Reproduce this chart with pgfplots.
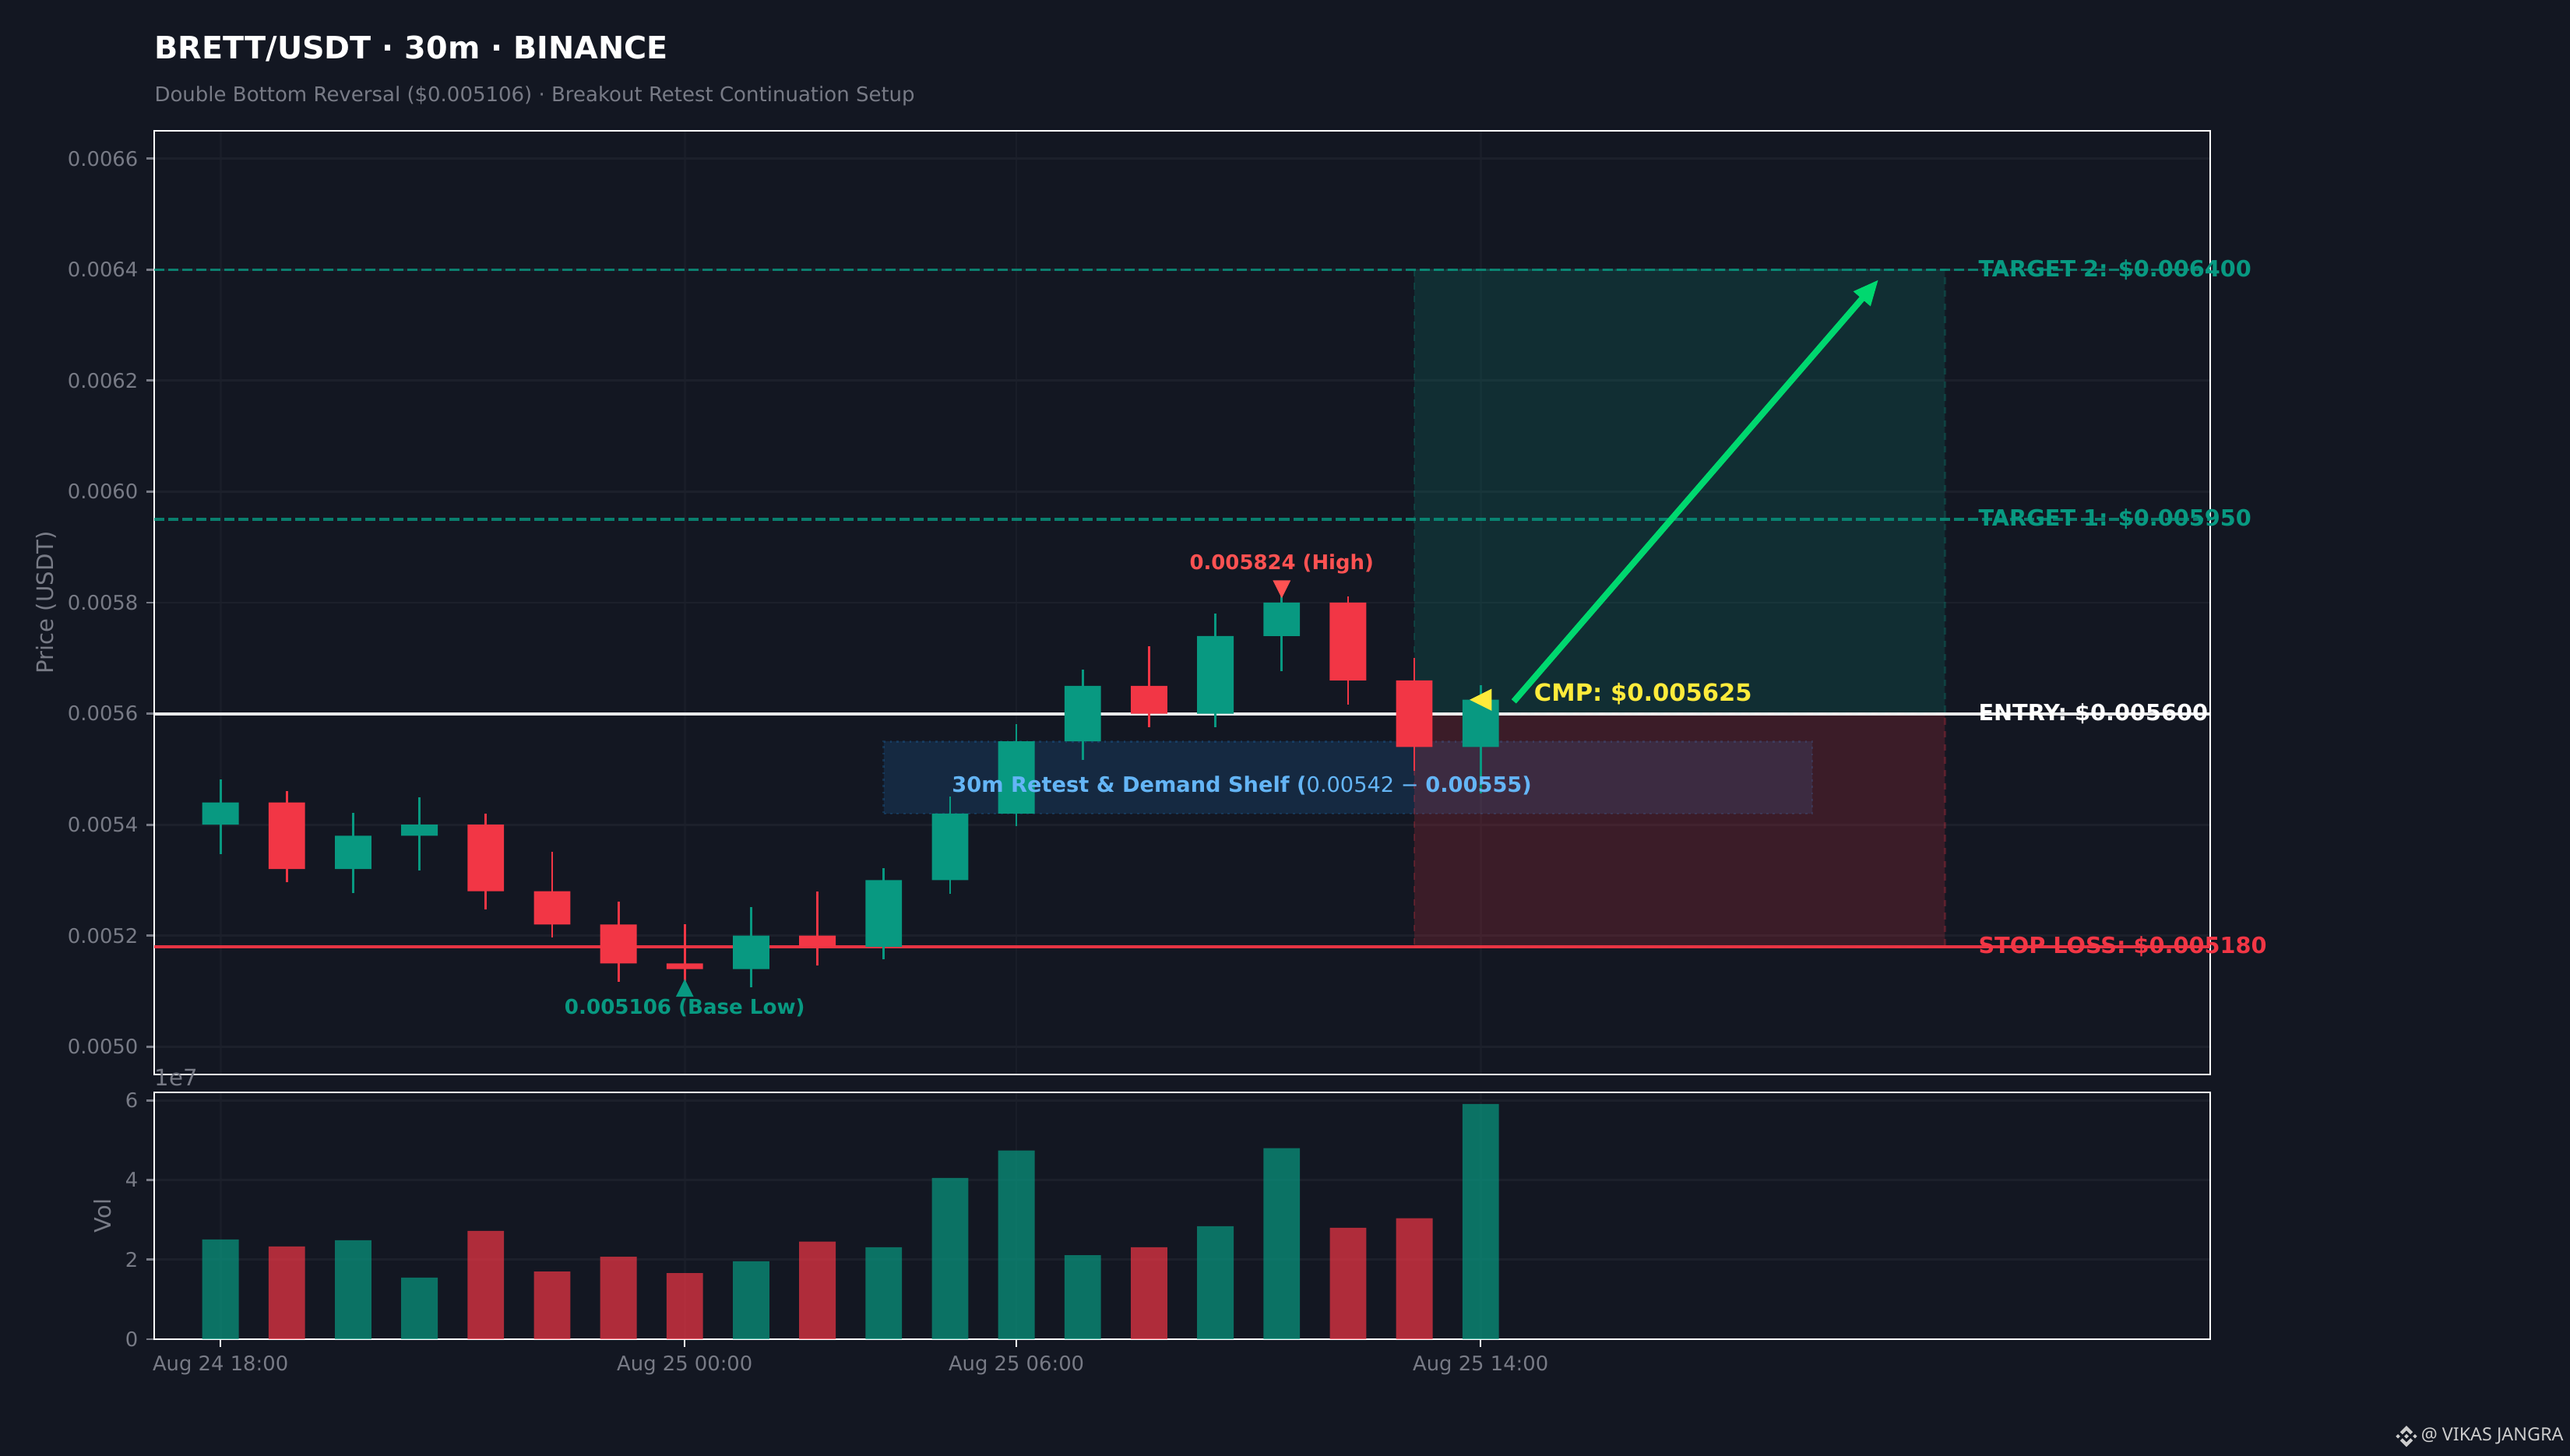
\documentclass[border=0pt]{standalone}
\usepackage{pgfplots}
\pgfplotsset{compat=1.18}
\usepackage{fontspec}
\setmainfont{DejaVu Sans}
\newfontfamily\wmfont{Noto Sans}
\usetikzlibrary{arrows.meta}
\definecolor{bg}{HTML}{131722}
\definecolor{up}{HTML}{089981}
\definecolor{down}{HTML}{F23645}
\definecolor{txt}{HTML}{787B86}
\definecolor{gridx}{HTML}{191D28}
\definecolor{gridy}{HTML}{1C202B}
\definecolor{zone}{HTML}{2196F3}
\definecolor{zonet}{HTML}{64B5F6}
\definecolor{hi}{HTML}{FF5252}
\definecolor{cmp}{HTML}{FFEB3B}
\definecolor{arr}{HTML}{00D86F}
\pgfdeclareplotmark{tridown}{%
  \pgfpathmoveto{\pgfqpoint{-\pgfplotmarksize}{\pgfplotmarksize}}%
  \pgfpathlineto{\pgfqpoint{\pgfplotmarksize}{\pgfplotmarksize}}%
  \pgfpathlineto{\pgfqpoint{0pt}{-\pgfplotmarksize}}%
  \pgfpathclose\pgfusepathqfill}
\pgfdeclareplotmark{triup}{%
  \pgfpathmoveto{\pgfqpoint{-\pgfplotmarksize}{-\pgfplotmarksize}}%
  \pgfpathlineto{\pgfqpoint{\pgfplotmarksize}{-\pgfplotmarksize}}%
  \pgfpathlineto{\pgfqpoint{0pt}{\pgfplotmarksize}}%
  \pgfpathclose\pgfusepathqfill}
\pgfdeclareplotmark{trileft}{%
  \pgfpathmoveto{\pgfqpoint{\pgfplotmarksize}{-\pgfplotmarksize}}%
  \pgfpathlineto{\pgfqpoint{\pgfplotmarksize}{\pgfplotmarksize}}%
  \pgfpathlineto{\pgfqpoint{-\pgfplotmarksize}{0pt}}%
  \pgfpathclose\pgfusepathqfill}
\pgfplotsset{
  common/.style={
    scale only axis, width=950.4pt,
    xmin=-1, xmax=30,
    xtick={0,7,12,19},
    grid=major,
    x grid style={gridx, line width=1pt},
    y grid style={gridy, line width=1pt},
    axis line style={white, line width=1.05pt},
    tick align=outside,
    major tick length=3.6pt,
    tick label style={txt, font=\fontsize{9.3}{11}\selectfont},
    yticklabel style={xshift=-0.3pt},
    ytick style={txt, line width=1pt},
    xtick style={white, line width=0.7pt},
    xtick pos=lower, ytick pos=left,
    /pgf/number format/assume math mode=true,
    unbounded coords=jump,
    clip=false,
  }
}
\begin{document}
\begin{tikzpicture}
\path[use as bounding box, fill=bg] (0pt,0pt) rectangle (1188pt,673.2pt);
\begin{axis}[common,
  name=main,
  at={(71.28pt,176.4pt)}, anchor=south west, height=436.32pt,
  ymin=0.00495, ymax=0.00665,
  ytick={0.0050,0.0052,0.0054,0.0056,0.0058,0.0060,0.0062,0.0064,0.0066},
  scaled y ticks=false,
  yticklabel style={/pgf/number format/fixed,/pgf/number format/fixed zerofill,/pgf/number format/precision=4},
  xticklabels={}, xtick style={draw=none},
  ylabel={Price (USDT)},
  ylabel style={at={(axis description cs:-0.0527,0.5)},anchor=center,txt,font=\fontsize{10.5}{12}\selectfont},
  title={BRETT/USDT · 30m · BINANCE},
  title style={at={(axis description cs:0,1.0891)},anchor=west,inner sep=0pt,yshift=-7pt,white,font=\fontsize{14.3}{16}\selectfont\bfseries},
]
% demand zone
\addplot[fill=zone, fill opacity=0.15, draw=zone, draw opacity=0.2, line width=1pt, dotted] coordinates {(10,0.00542)(24,0.00542)(24,0.00555)(10,0.00555)(10,0.00542)};
% reward and risk boxes
\addplot[fill=up, fill opacity=0.18, draw=up, draw opacity=0.25, line width=1pt, dashed] coordinates {(18,0.0056)(26,0.0056)(26,0.0064)(18,0.0064)(18,0.0056)};
\addplot[fill=down, fill opacity=0.18, draw=down, draw opacity=0.25, line width=1pt, dashed] coordinates {(18,0.00518)(26,0.00518)(26,0.0056)(18,0.0056)(18,0.00518)};
% levels
\addplot[up, opacity=0.8, line width=1.2pt, dash pattern=on 4.7pt off 1.8pt] coordinates {(-1,0.0064)(30,0.0064)};
\addplot[up, opacity=0.8, line width=1.2pt, dash pattern=on 4.7pt off 1.8pt] coordinates {(-1,0.00595)(30,0.00595)};
\addplot[white, opacity=0.9, line width=1.4pt] coordinates {(-1,0.0056)(30,0.0056)};
\addplot[down, opacity=0.95, line width=1.2pt] coordinates {(-1,0.00518)(30,0.00518)};
% wicks
\addplot[up, line width=1pt] coordinates {
(0,0.005347)(0,0.005481)(0,nan)
(2,0.005277)(2,0.005421)(2,nan)
(3,0.005317)(3,0.00545)(3,nan)
(8,0.005107)(8,0.005251)(8,nan)
(10,0.005157)(10,0.005321)(10,nan)
(11,0.005276)(11,0.005451)(11,nan)
(12,0.005397)(12,0.005581)(12,nan)
(13,0.005516)(13,0.00568)(13,nan)
(15,0.005576)(15,0.005781)(15,nan)
(16,0.005676)(16,0.005824)(16,nan)
(19,0.005457)(19,0.005651)
};
\addplot[down, line width=1pt] coordinates {
(1,0.005296)(1,0.00546)(1,nan)
(4,0.005247)(4,0.00542)(4,nan)
(5,0.005197)(5,0.005351)(5,nan)
(6,0.005117)(6,0.005261)(6,nan)
(7,0.005106)(7,0.00522)(7,nan)
(9,0.005146)(9,0.00528)(9,nan)
(14,0.005576)(14,0.005721)(14,nan)
(17,0.005616)(17,0.005811)(17,nan)
(18,0.005497)(18,0.005701)
};
% bodies
\addplot[fill=up, draw=none] coordinates {
(-0.275,0.0054)(0.275,0.0054)(0.275,0.00544)(-0.275,0.00544)(0,nan)
(1.725,0.00532)(2.275,0.00532)(2.275,0.00538)(1.725,0.00538)(2,nan)
(2.725,0.00538)(3.275,0.00538)(3.275,0.0054)(2.725,0.0054)(3,nan)
(7.725,0.00514)(8.275,0.00514)(8.275,0.0052)(7.725,0.0052)(8,nan)
(9.725,0.00518)(10.275,0.00518)(10.275,0.0053)(9.725,0.0053)(10,nan)
(10.725,0.0053)(11.275,0.0053)(11.275,0.00542)(10.725,0.00542)(11,nan)
(11.725,0.00542)(12.275,0.00542)(12.275,0.00555)(11.725,0.00555)(12,nan)
(12.725,0.00555)(13.275,0.00555)(13.275,0.00565)(12.725,0.00565)(13,nan)
(14.725,0.0056)(15.275,0.0056)(15.275,0.00574)(14.725,0.00574)(15,nan)
(15.725,0.00574)(16.275,0.00574)(16.275,0.0058)(15.725,0.0058)(16,nan)
(18.725,0.00554)(19.275,0.00554)(19.275,0.005625)(18.725,0.005625)
};
\addplot[fill=down, draw=none] coordinates {
(0.725,0.00532)(1.275,0.00532)(1.275,0.00544)(0.725,0.00544)(1,nan)
(3.725,0.00528)(4.275,0.00528)(4.275,0.0054)(3.725,0.0054)(4,nan)
(4.725,0.00522)(5.275,0.00522)(5.275,0.00528)(4.725,0.00528)(5,nan)
(5.725,0.00515)(6.275,0.00515)(6.275,0.00522)(5.725,0.00522)(6,nan)
(6.725,0.00514)(7.275,0.00514)(7.275,0.00515)(6.725,0.00515)(7,nan)
(8.725,0.00518)(9.275,0.00518)(9.275,0.0052)(8.725,0.0052)(9,nan)
(13.725,0.0056)(14.275,0.0056)(14.275,0.00565)(13.725,0.00565)(14,nan)
(16.725,0.00566)(17.275,0.00566)(17.275,0.0058)(16.725,0.0058)(17,nan)
(17.725,0.00554)(18.275,0.00554)(18.275,0.00566)(17.725,0.00566)
};
% markers
\addplot[only marks, mark=tridown, mark size=4.1pt, color=hi] coordinates {(16,0.005824)};
\addplot[only marks, mark=triup, mark size=4.1pt, color=up] coordinates {(7,0.005106)};
\addplot[only marks, mark=trileft, mark size=5.1pt, color=cmp] coordinates {(19,0.005625)};
% arrow
\addplot[arr, line width=2.9pt, -{Stealth[length=11.8pt,width=9.6pt,inset=0pt]}] coordinates {(19.5,0.005622)(25,0.006382)};
% text
\node[anchor=west,inner sep=0pt,text=txt,font=\fontsize{9.36}{11}\selectfont] at (axis description cs:0,1.0365) {Double Bottom Reversal (\$0.005106) · Breakout Retest Continuation Setup};
\node[text=hi,font=\fontsize{9.33}{11}\selectfont\bfseries] at (axis cs:16,0.00587) {0.005824 (High)};
\node[text=up,font=\fontsize{9.4}{11}\selectfont\bfseries] at (axis cs:7,0.00507) {0.005106 (Base Low)};
\node[text=zonet,font=\fontsize{9.8}{11}\selectfont] at (axis cs:15.4,0.00547) {\textbf{30m Retest \& Demand Shelf (}0.00542 − \textbf{0.00555)}};
\node[anchor=west,inner sep=0pt,text=cmp,font=\fontsize{11}{13}\selectfont\bfseries] at (axis cs:19.8,0.005636) {CMP: \$0.005625};
\node[anchor=west,inner sep=0pt,text=up,font=\fontsize{10.35}{12}\selectfont\bfseries] at (axis cs:26.5,0.0064) {TARGET 2: \$0.006400};
\node[anchor=west,inner sep=0pt,text=up,font=\fontsize{10.35}{12}\selectfont\bfseries] at (axis cs:26.5,0.00595) {TARGET 1: \$0.005950};
\node[anchor=west,inner sep=0pt,text=white,font=\fontsize{10.35}{12}\selectfont\bfseries] at (axis cs:26.5,0.0056) {ENTRY: \$0.005600};
\node[anchor=west,inner sep=0pt,text=down,font=\fontsize{10.35}{12}\selectfont\bfseries] at (axis cs:26.5,0.00518) {STOP LOSS: \$0.005180};
\end{axis}
\begin{axis}[common,
  at={(71.28pt,54pt)}, anchor=south west, height=114.12pt,
  ymin=0, ymax=6.2,
  ytick={0,2,4,6},
  xticklabels={Aug 24 18:00,Aug 25 00:00,Aug 25 06:00,Aug 25 14:00},
  xticklabel style={yshift=-0.7pt},
  ylabel={Vol},
  ylabel style={at={(axis description cs:-0.025,0.5)},anchor=center,txt,font=\fontsize{10.4}{12}\selectfont},
]
\addplot[ybar, bar width=0.55, bar shift=0pt, fill=up, fill opacity=0.7, draw=none] coordinates {
(0,2.505)(2,2.485)(3,1.546)(8,1.96)(10,2.31)(11,4.05)(12,4.74)(13,2.11)(15,2.84)(16,4.80)(19,5.91)};
\addplot[ybar, bar width=0.55, bar shift=0pt, fill=down, fill opacity=0.7, draw=none] coordinates {
(1,2.33)(4,2.72)(5,1.70)(6,2.07)(7,1.66)(9,2.45)(14,2.31)(17,2.80)(18,3.04)};
\node[anchor=west,inner sep=0pt,text=txt,font=\fontsize{10.5}{12}\selectfont] at (axis description cs:0,1.06) {1e7};
\end{axis}
% watermark
\node[anchor=east,inner sep=0pt,text=black!20,font=\wmfont\fontsize{8.4}{10}\selectfont] at (1185.1pt,9.1pt) {@ VIKAS JANGRA};
\begin{scope}[shift={(1112.4pt,9.1pt)},x=4.9pt,y=4.9pt,black!20]
\fill (0,1)--(.6,.4)--(.38,.18)--(0,.56)--(-.38,.18)--(-.6,.4)--cycle;
\fill (0,-1)--(.6,-.4)--(.38,-.18)--(0,-.56)--(-.38,-.18)--(-.6,-.4)--cycle;
\fill (0,.22)--(.22,0)--(0,-.22)--(-.22,0)--cycle;
\fill (.8,.2)--(1,0)--(.8,-.2)--(.6,0)--cycle;
\fill (-.8,.2)--(-1,0)--(-.8,-.2)--(-.6,0)--cycle;
\end{scope}
\end{tikzpicture}
\end{document}
